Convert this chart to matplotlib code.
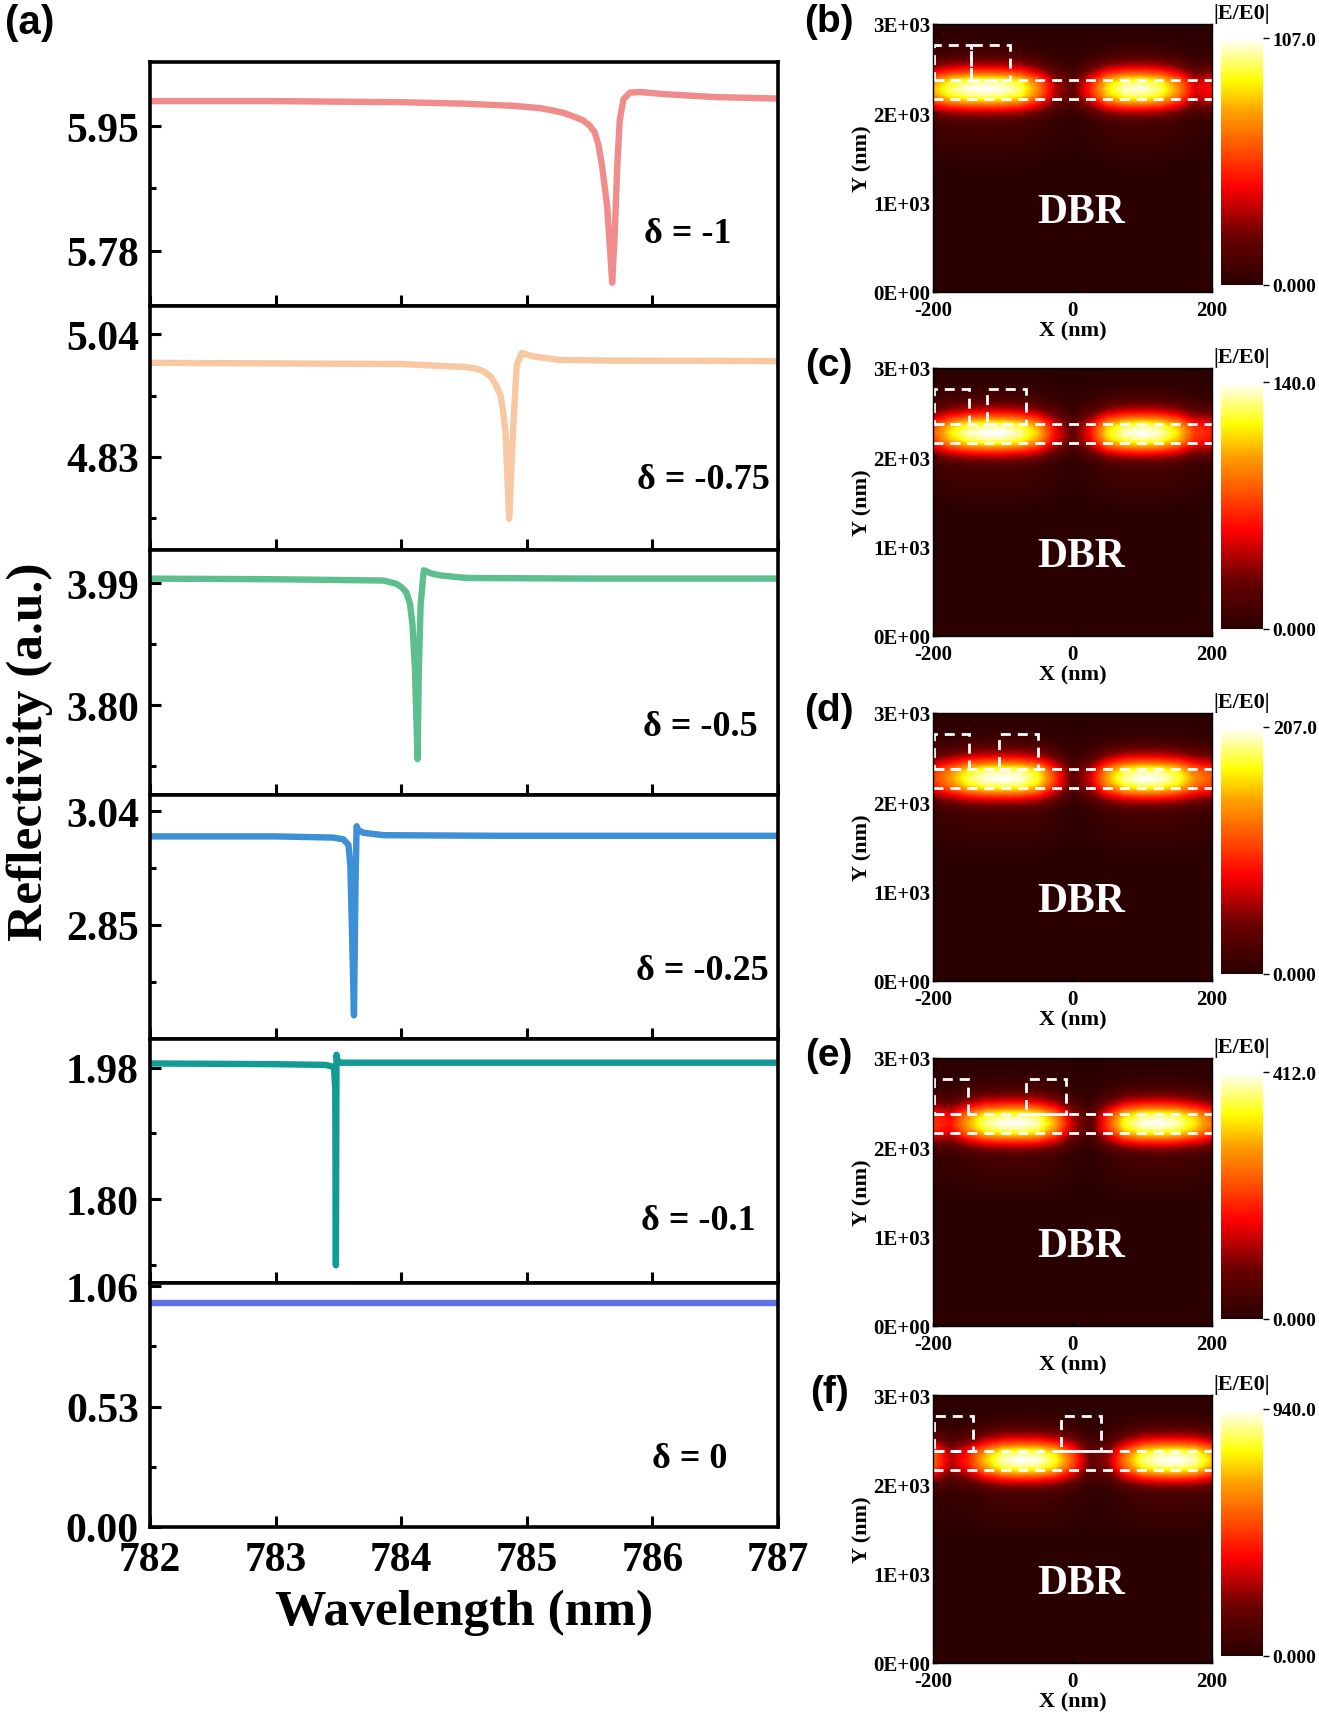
import numpy as np
import matplotlib
matplotlib.use('Agg')
import matplotlib.pyplot as plt
from matplotlib.colors import LinearSegmentedColormap, Normalize
from matplotlib.cm import ScalarMappable
from matplotlib.patches import Rectangle
from matplotlib.ticker import FixedLocator, NullFormatter

plt.rcParams['axes.unicode_minus'] = False

# ---------------- data: reflectivity spectra ----------------
wavelength_ticks = [782, 783, 784, 785, 786, 787]
delta_labels = ['δ = -1', 'δ = -0.75', 'δ = -0.5', 'δ = -0.25', 'δ = -0.1', 'δ = 0']
line_colors = ['#F08C8C', '#F7C8A2', '#5DBE8E', '#3D8FD6', '#139A94', '#6070E6']

wl1 = [782.0, 783.0, 784.0, 784.5, 784.9, 785.1, 785.2, 785.3, 785.38, 785.45, 785.5, 785.54,
       785.57, 785.6, 785.64, 785.68, 785.70, 785.72, 785.74, 785.77, 785.82, 785.9, 786.1,
       786.5, 787.0]
r1 = [5.9845, 5.9845, 5.983, 5.981, 5.978, 5.975, 5.972, 5.968, 5.963, 5.958, 5.951, 5.942,
      5.925, 5.895, 5.84, 5.736, 5.803, 5.895, 5.959, 5.987, 5.996, 5.997, 5.994,
      5.990, 5.988]

wl2 = [782.0, 783.0, 784.0, 784.39, 784.5, 784.6, 784.66, 784.71, 784.75, 784.79, 784.81,
       784.83, 784.86, 784.89, 784.92, 784.96, 785.05, 785.26, 785.6, 787.0]
r2 = [4.991, 4.990, 4.989, 4.985, 4.984, 4.981, 4.976, 4.968, 4.955, 4.936, 4.91,
      4.873, 4.724, 4.873, 4.988, 5.008, 5.002, 4.996, 4.995, 4.994]

wl3 = [782.0, 783.0, 783.86, 783.96, 784.0, 784.04, 784.07, 784.09, 784.11, 784.13, 784.14,
       784.155, 784.18, 784.24, 784.31, 784.52, 785.5, 787.0]
r3 = [3.997, 3.996, 3.994, 3.989, 3.984, 3.976, 3.958, 3.925, 3.854, 3.716, 3.854,
      3.958, 4.010, 4.005, 4.002, 3.998, 3.997, 3.997]

wl4 = [782.0, 783.0, 783.46, 783.54, 783.58, 783.595, 783.606, 783.624, 783.636, 783.645,
       783.66, 783.70, 783.86, 784.79, 787.0]
r4 = [2.998, 2.998, 2.996, 2.993, 2.984, 2.95, 2.858, 2.699, 2.914, 3.015,
      3.008, 3.004, 3.0, 2.999, 2.999]

wl5 = [782.0, 783.0, 783.40, 783.465, 783.475, 783.480, 783.485, 783.492, 783.52, 784.0, 787.0]
r5 = [1.986, 1.985, 1.984, 1.981, 1.95, 1.709, 1.998, 1.990, 1.987, 1.987, 1.987]

wl6 = [782.0, 787.0]
r6 = [0.985, 0.985]

spectra = [(wl1, r1), (wl2, r2), (wl3, r3), (wl4, r4), (wl5, r5), (wl6, r6)]
y_limits = [(5.704, 6.038), (4.670, 5.088), (3.661, 4.041), (2.660, 3.068), (1.685, 2.020), (0.0, 1.075)]
y_major = [[5.78, 5.95], [4.83, 5.04], [3.80, 3.99], [2.85, 3.04], [1.80, 1.98], [0.00, 0.53, 1.06]]
y_minor = [[5.865], [4.725, 4.935], [3.705, 3.895], [2.755, 2.945], [1.71, 1.89], [0.265, 0.795]]

# ---------------- data: field maps ----------------
panel_letters = ['(b)', '(c)', '(d)', '(e)', '(f)']
field_max = [107.0, 140.0, 207.0, 412.0, 940.0]
x_grid = [-200, -175, -150, -125, -100, -75, -50, -25, 0, 25, 50, 75, 100, 125, 150, 175, 200]
y_grid = [0, 1400, 1600, 1750, 1900, 2000, 2080, 2150, 2210, 2270, 2330, 2390, 2450, 2530, 2650, 2800, 3000]
y_profile = [0.0, 0.0, 0.04, 0.07, 0.1, 0.27, 0.52, 0.78, 0.94, 1.0, 0.95, 0.8, 0.57, 0.32, 0.11, 0.02, 0.0]
x_profiles = [
    [0.72, 0.9, 0.98, 1.0, 0.98, 0.9, 0.65, 0.3, 0.15, 0.45, 0.8, 0.96, 0.98, 0.9, 0.68, 0.35, 0.42],
    [0.55, 0.8, 0.95, 1.0, 1.0, 0.93, 0.75, 0.4, 0.15, 0.4, 0.8, 0.96, 1.0, 0.96, 0.8, 0.5, 0.45],
    [0.5, 0.68, 0.88, 0.98, 1.0, 0.98, 0.85, 0.5, 0.15, 0.32, 0.7, 0.93, 1.0, 0.98, 0.88, 0.66, 0.55],
    [0.5, 0.42, 0.7, 0.92, 0.99, 1.0, 0.95, 0.7, 0.3, 0.12, 0.5, 0.85, 0.98, 1.0, 0.95, 0.8, 0.6],
    [0.6, 0.3, 0.45, 0.75, 0.95, 1.0, 0.98, 0.85, 0.55, 0.18, 0.25, 0.62, 0.9, 0.99, 1.0, 0.95, 0.75],
]
layer_top = 2370
layer_bottom = 2165
pillar_top = 2760
pillar1_x = [(-199, -145), (-199, -149), (-199, -149), (-199, -150), (-199, -142)]
pillar2_x = [(-145, -90), (-123, -66), (-106, -50), (-67, -10), (-17, 41)]
map_xticks = [-200, 0, 200]
map_yticks = [0, 1000, 2000, 3000]
map_yticklabels = ['0E+00', '1E+03', '2E+03', '3E+03']

# ---------------- figure ----------------
W, H = 1319, 1715
fig = plt.figure(figsize=(W / 100, H / 100), dpi=100)
SERIF = 'Liberation Serif'
SANS = 'Liberation Sans'


def ax_px(x0, y0, x1, y1):
    return fig.add_axes([x0 / W, 1 - y1 / H, (x1 - x0) / W, (y1 - y0) / H])


# left stacked panels
L, R = 150, 778
top0, bottom_last = 63, 1528
ph = (bottom_last - top0) / 6
label_pos_y = [0.298, 0.291, 0.28, 0.278, 0.256, 0.28]
label_pos_x = [0.857, 0.882, 0.876, 0.88, 0.873, 0.86]
for i, (wl, rr) in enumerate(spectra):
    ax = ax_px(L, top0 + i * ph, R, top0 + (i + 1) * ph)
    ax.plot(wl, rr, color=line_colors[i], lw=4.6, solid_joinstyle='round', solid_capstyle='round')
    ax.set_xlim(782, 787)
    ax.set_ylim(*y_limits[i])
    ax.xaxis.set_major_locator(FixedLocator(wavelength_ticks))
    ax.yaxis.set_major_locator(FixedLocator(y_major[i]))
    ax.yaxis.set_minor_locator(FixedLocator(y_minor[i]))
    ax.yaxis.set_major_formatter(matplotlib.ticker.FuncFormatter(lambda v, p: f'{v:.2f}'))
    ax.tick_params(axis='both', which='major', direction='in', length=8, width=2.2,
                   labelsize=30, pad=8)
    ax.tick_params(axis='y', which='minor', direction='in', length=4.5, width=2.2)
    ax.tick_params(axis='x', which='major', pad=10)
    for s in ax.spines.values():
        s.set_linewidth(2.6)
    if i < 5:
        ax.xaxis.set_major_formatter(NullFormatter())
    for lab in ax.get_xticklabels() + ax.get_yticklabels():
        lab.set_fontfamily(SERIF)
        lab.set_fontweight('bold')
    ax.text(label_pos_x[i], label_pos_y[i], delta_labels[i], transform=ax.transAxes,
            ha='center', va='center', fontsize=26, fontfamily=SERIF, fontweight='bold')

fig.text(30 / W, 1 - 752 / H, 'Reflectivity (a.u.)', rotation=90, ha='center', va='center',
         fontsize=37, fontfamily=SERIF, fontweight='bold')
fig.text(464 / W, 1 - 1613 / H, 'Wavelength (nm)', ha='center', va='center',
         fontsize=37, fontfamily=SERIF, fontweight='bold')
fig.text(5 / W, 1 - 23 / H, '(a)', ha='left', va='center', fontsize=29,
         fontfamily=SANS, fontweight='bold')

# field colormap
cmap = LinearSegmentedColormap.from_list('field', [
    (0.0, '#2b0000'), (0.2, '#6a0000'), (0.4, '#ff0000'), (0.55, '#ff5000'),
    (0.7, '#ff9f00'), (0.83, '#ffff00'), (1.0, '#ffffff')])

map_tops = [25, 369, 714, 1059, 1396]
mh = 268
MX0, MX1 = 933, 1212
CX0, CX1 = 1221, 1263
for k in range(5):
    t = map_tops[k]
    ax = ax_px(MX0, t, MX1, t + mh)
    vmax = field_max[k]
    Z = vmax * np.outer(y_profile, x_profiles[k])
    ax.contourf(x_grid, y_grid, Z, levels=np.linspace(0, vmax, 200), cmap=cmap,
                vmin=0, vmax=vmax)
    ax.set_xlim(-200, 200)
    ax.set_ylim(0, 3000)
    dash = dict(color='white', lw=2.0, linestyle=(0, (3.6, 2.5)))
    ax.axhline(layer_top, **dash)
    ax.axhline(layer_bottom, **dash)
    for (xa, xb) in (pillar1_x[k], pillar2_x[k]):
        ax.add_patch(Rectangle((xa, layer_top), xb - xa, pillar_top - layer_top,
                               fill=False, edgecolor='white', lw=2.0, linestyle=(0, (3.6, 2.5))))
    ax.text(12, 900, 'DBR', color='white', ha='center', va='center', fontsize=30,
            fontfamily=SERIF, fontweight='bold')
    ax.set_xticks(map_xticks)
    ax.set_yticks(map_yticks)
    ax.set_yticklabels(map_yticklabels)
    ax.tick_params(direction='in', length=3, width=1, labelsize=15)
    ax.tick_params(axis='x', pad=6)
    ax.tick_params(axis='y', pad=2)
    for lab in ax.get_xticklabels() + ax.get_yticklabels():
        lab.set_fontfamily(SERIF)
        lab.set_fontweight('bold')
    for s in ax.spines.values():
        s.set_linewidth(1.0)
    fig.text((MX0 + MX1) / 2 / W, 1 - (t + mh + 38) / H, 'X (nm)', ha='center', va='center',
             fontsize=16, fontfamily=SERIF, fontweight='bold')
    fig.text(862 / W, 1 - (t + mh / 2) / H, 'Y (nm)', rotation=90, ha='center', va='center',
             fontsize=16, fontfamily=SERIF, fontweight='bold')
    fig.text(829 / W, 1 - (t - 3) / H, panel_letters[k], ha='center', va='center',
             fontsize=28, fontfamily=SANS, fontweight='bold')
    # colorbar
    cax = ax_px(CX0, t + 14, CX1, t + mh - 7)
    sm = ScalarMappable(norm=Normalize(0, vmax), cmap=cmap)
    cb = fig.colorbar(sm, cax=cax)
    cb.outline.set_visible(False)
    cb.set_ticks([0, vmax])
    cb.set_ticklabels(['0.000', f'{vmax:.1f}'])
    cax.tick_params(direction='out', length=4, width=1, labelsize=14, pad=3)
    for lab in cax.get_yticklabels():
        lab.set_fontfamily(SERIF)
        lab.set_fontweight('bold')
    fig.text((CX0 + CX1) / 2 / W, 1 - (t - 11) / H, '|E/E0|', ha='center', va='center',
             fontsize=16, fontfamily=SERIF, fontweight='bold')

fig.savefig('out.png', dpi=100)
